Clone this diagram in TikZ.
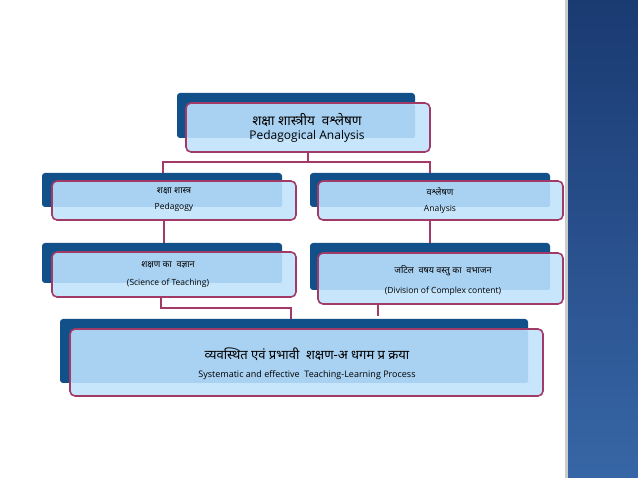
\documentclass[tikz,border=0pt]{standalone}
\usepackage{fontspec}
\setmainfont{Open Sans}
\newfontfamily\dev[Script=Devanagari]{Noto Sans}
\definecolor{back}{HTML}{12508A}
\definecolor{front}{HTML}{C8E6FB}
\definecolor{overlap}{HTML}{A9D1F1}
\definecolor{pinkb}{HTML}{A23A68}
\definecolor{stripA}{HTML}{1A3A72}
\definecolor{stripB}{HTML}{3766A6}
\begin{document}
\begin{tikzpicture}[x=1pt,y=-1pt,
  backbox/.style={fill=back,rounded corners=3pt},
  frontfill/.style={fill=front,rounded corners=5pt},
  overfill/.style={fill=overlap,rounded corners=2pt},
  frontbox/.style={draw=pinkb,line width=1.6pt,rounded corners=5pt},
  conn/.style={draw=pinkb,line width=2pt},
  txt/.style={align=center,text=black}]
\fill[white] (0,0) rectangle (638,478);
\fill[gray!40] (565,0) rectangle (568,478);
\shade[top color=stripA,bottom color=stripB] (568,0) rectangle (638,478);
% connectors
\coordinate (t1) at (308,152); \coordinate (t2) at (308,162);
\coordinate (ta) at (163,162); \coordinate (tb) at (430,162);
\coordinate (ta2) at (163,176); \coordinate (tb2) at (430,176);
\draw[conn] (t1)--(t2); \draw[conn] (ta2)--(ta)--(tb)--(tb2);
\coordinate (m1) at (164,220); \coordinate (m2) at (164,245);
\coordinate (n1) at (430,220); \coordinate (n2) at (430,245);
\draw[conn] (m1)--(m2); \draw[conn] (n1)--(n2);
\coordinate (b1) at (161,297); \coordinate (b2) at (161,308);
\coordinate (b3) at (291,308); \coordinate (b4) at (291,320);
\coordinate (c1) at (378,304); \coordinate (c2) at (378,316);
\draw[conn] (b1)--(b2)--(b3)--(b4); \draw[conn] (c1)--(c2);
% boxes
\fill[backbox] (177,93) rectangle (415,138);
\fill[frontfill] (186,103) rectangle (430,152);
\fill[overfill] (187,104) rectangle (415,138);
\draw[frontbox] (186,103) rectangle (430,152);
\node[txt] (top) at (307,128) {{\dev\fontsize{13.5}{15}\selectfont शक्षा शास्त्रीय\ \ वश्लेषण}\\[2pt]{\fontsize{12}{13}\selectfont Pedagogical Analysis}};
\fill[backbox] (42,173) rectangle (282,207);
\fill[frontfill] (52,181) rectangle (296,220);
\fill[overfill] (53,182) rectangle (282,207);
\draw[frontbox] (52,181) rectangle (296,220);
\node[txt] (l1) at (174,200) {{\dev\fontsize{9}{10}\selectfont शक्षा शास्त्र}\\[4pt]{\fontsize{8.5}{9}\selectfont Pedagogy}};
\fill[backbox] (310,173) rectangle (550,207);
\fill[frontfill] (318,181) rectangle (563,220);
\fill[overfill] (319,182) rectangle (550,207);
\draw[frontbox] (318,181) rectangle (563,220);
\node[txt] (r1) at (440,200) {{\dev\fontsize{9}{10}\selectfont वश्लेषण}\\[4pt]{\fontsize{8.5}{9}\selectfont Analysis}};
\fill[backbox] (42,243) rectangle (282,283);
\fill[frontfill] (52,252) rectangle (296,297);
\fill[overfill] (53,253) rectangle (282,283);
\draw[frontbox] (52,252) rectangle (296,297);
\node[txt] (l2) at (168,275) {{\dev\fontsize{9}{10}\selectfont शक्षण का\ \ वज्ञान}\\[6pt]{\fontsize{8.5}{9}\selectfont (Science of Teaching)}};
\fill[backbox] (310,243) rectangle (550,290);
\fill[frontfill] (318,253) rectangle (563,304);
\fill[overfill] (319,254) rectangle (550,290);
\draw[frontbox] (318,253) rectangle (563,304);
\node[txt] (r2) at (443,280) {{\dev\fontsize{9}{10}\selectfont जटिल\ \ वषय वस्तु का\ \ वभाजन}\\[8pt]{\fontsize{8.5}{9}\selectfont (Division of Complex content)}};
\fill[backbox] (60,319) rectangle (528,383);
\fill[frontfill] (70,329) rectangle (543,396);
\fill[overfill] (71,330) rectangle (528,383);
\draw[frontbox] (70,329) rectangle (543,396);
\node[txt] (bot) at (307,364) {{\dev\fontsize{13}{15}\selectfont व्यवस्थित एवं प्रभावी\ \ शक्षण-अ धगम प्र क्रया}\\[6pt]{\fontsize{9}{10}\selectfont Systematic and effective\ \ Teaching-Learning Process}};
\end{tikzpicture}
\end{document}
